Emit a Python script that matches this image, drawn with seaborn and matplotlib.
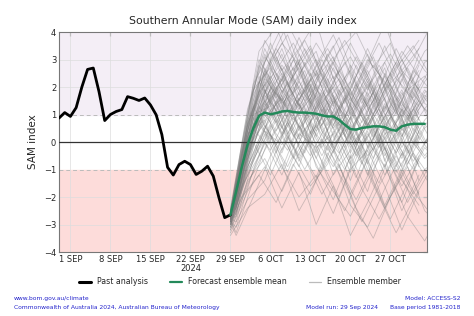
import numpy as np
import pandas as pd
import seaborn as sns
import matplotlib.pyplot as plt
import matplotlib.dates as mdates
from matplotlib.lines import Line2D
from matplotlib.ticker import FuncFormatter

# past analysis, daily from 30 Aug to 29 Sep 2024
past_dates = pd.date_range('2024-08-30', '2024-09-29', freq='D')
past_sam = [0.87, 1.07, 0.93, 1.25, 2.0, 2.64, 2.69, 1.83, 0.78, 1.0, 1.11,
            1.18, 1.65, 1.59, 1.51, 1.6, 1.35, 0.99, 0.27, -0.92, -1.2,
            -0.82, -0.7, -0.82, -1.18, -1.06, -0.88, -1.24, -2.03, -2.75, -2.65]

# forecast ensemble mean, daily from 29 Sep to 2 Nov
mean_dates = pd.date_range('2024-09-29', '2024-11-02', freq='D')
mean_sam = [-2.65, -1.8, -0.9, -0.1, 0.5, 0.95, 1.07, 1.01, 1.05, 1.11, 1.13,
            1.09, 1.07, 1.07, 1.05, 1.03, 0.97, 0.93, 0.93, 0.81, 0.63, 0.47,
            0.45, 0.51, 0.54, 0.57, 0.57, 0.54, 0.45, 0.41, 0.57, 0.63, 0.66,
            0.66, 0.66]

# ensemble members (read roughly), three groups on 3-day steps
dates_a = pd.to_datetime(['2024-09-29'] + list(pd.date_range('2024-10-02', '2024-11-03', freq='3D')))
dates_b = pd.to_datetime(['2024-09-29'] + list(pd.date_range('2024-09-30', '2024-11-05', freq='3D')))
dates_c = pd.to_datetime(['2024-09-29'] + list(pd.date_range('2024-10-01', '2024-11-03', freq='3D')))

members_a = [
    [-2.8, -0.5, 1.8, 3.2, 1.5, 2.6, 0.8, 1.9, 3.4, 2.0, 0.9, 2.2],
    [-2.6, 0.4, 2.6, 1.2, 2.9, 0.5, 1.6, -0.4, 0.8, 2.5, 1.1, -0.2],
    [-3.0, -1.2, 0.3, -1.0, 0.6, -0.8, -2.1, -0.5, -1.8, 0.2, -1.3, -2.6],
    [-2.7, 0.1, 3.1, 2.2, 3.8, 2.4, 3.5, 1.7, 2.9, 4.3, 2.6, 3.4],
    [-2.9, -0.8, 1.1, 2.3, 0.4, 1.8, -0.3, 0.9, -0.6, 1.4, 0.2, 1.7],
    [-2.5, 0.8, 2.1, 0.6, -0.5, 1.3, 2.4, 0.3, 1.6, -0.7, 0.8, 2.1],
    [-3.2, -1.8, -0.9, -2.4, -1.1, -3.0, -1.6, -3.4, -2.2, -0.8, -2.5, -1.2],
    [-2.8, 0.2, 1.5, 2.8, 1.9, 0.7, 1.8, 2.6, 1.0, -0.3, 1.2, 0.5],
    [-2.6, 0.5, 2.9, 4.2, 2.5, 3.3, 1.4, 2.2, 0.6, 1.8, 3.0, 1.6],
    [-3.1, -0.9, 0.6, -0.4, 1.2, 2.0, 0.2, -1.4, 0.3, -0.9, -2.2, -0.6],
    [-2.7, -0.3, 1.9, 0.8, 2.2, 1.1, 2.7, 1.3, -0.2, 0.9, 2.3, 0.8],
    [-2.9, -0.6, 0.9, 1.6, -0.2, -1.3, 0.4, -0.8, 1.1, 2.4, 0.6, -0.9],
    [-2.4, 1.1, 3.4, 2.0, 1.2, 2.8, 3.9, 2.5, 1.3, 2.9, 1.5, 3.2],
    [-3.3, -2.1, -1.4, 0.2, -0.9, 0.9, -0.6, -2.3, -3.1, -1.7, -0.4, -1.9],
    [-2.8, 0.0, 1.4, 0.3, 1.6, 0.4, 1.1, -0.2, 0.7, -0.5, 0.9, 2.4],
    [-2.6, 0.6, 2.4, 3.6, 2.8, 1.6, 0.5, 1.2, 2.3, 0.8, 1.9, 0.3],
    [-3.0, -1.0, 0.1, 1.3, 2.5, 1.4, -0.1, 0.6, -1.0, -2.4, -1.1, 0.4],
    [-2.7, -0.2, 2.2, 1.0, 0.1, 2.1, 1.3, 2.8, 1.7, 0.5, -0.9, 0.9],
    [-2.5, 0.9, 3.7, 2.6, 3.4, 4.4, 2.3, 3.1, 1.9, 3.5, 2.0, 1.3],
    [-3.1, -1.5, -0.3, 0.8, -0.7, 0.5, 1.7, 0.2, -1.2, 0.6, 1.5, -0.1],
    [-2.8, -0.4, 1.2, -0.3, 0.9, -0.4, 0.9, 1.8, 0.5, 1.6, -0.2, 1.1],
    [-2.9, -0.7, 1.6, 2.5, 1.3, 2.3, 3.1, 1.0, 2.6, 1.2, 2.8, 3.7],
    [-2.6, 0.3, 0.8, -0.9, -2.0, -1.2, -2.6, -1.0, -0.3, -1.6, -3.2, -1.8],
    [-3.0, -1.1, 0.5, 1.9, 0.9, -0.6, 1.0, -0.6, 0.2, 1.3, 0.3, -1.4],
    [-2.7, 0.0, 2.7, 1.4, 2.0, 3.0, 1.9, 0.8, 2.1, 0.4, 1.7, 2.6],
    [-3.4, -2.4, -1.9, -0.8, -2.5, -1.4, -0.3, -1.9, -0.6, -2.3, -1.0, 0.2],
    [-2.8, -0.1, 1.3, 2.1, 3.0, 1.2, 2.0, 0.5, 1.4, 2.7, 0.4, 1.4],
    [-2.6, 0.7, 1.9, 0.2, 1.4, 0.1, -0.9, 0.4, -0.8, 0.7, 1.8, 0.1],
    [-2.9, -0.5, 1.0, 2.4, 0.5, 1.7, 0.6, 2.0, 3.2, 1.5, 0.2, 2.0],
    [-2.5, 1.2, 3.2, 1.8, 2.7, 0.8, 2.2, 3.6, 2.4, 1.1, 2.5, 1.0],
    [-3.1, -1.4, -0.6, -1.8, -0.4, 0.7, -1.2, -0.3, 0.9, -0.4, -1.6, -0.5],
    [-2.7, 0.2, 2.0, 3.4, 1.7, 2.5, 0.9, -0.1, 1.2, 2.1, 3.3, 2.4],
    [-2.8, -0.3, 1.5, 0.5, 1.8, 0.2, 1.5, 0.7, -0.5, 0.3, 0.6, 1.5],
    [-3.2, -1.6, 0.0, -1.2, 0.3, -0.2, 0.3, -1.1, 0.4, -1.2, 0.0, -0.8],
    [-2.6, 0.4, 2.3, 1.5, 2.4, 3.6, 2.6, 1.5, 3.0, 2.2, 1.3, 2.8],
    [-2.9, -0.6, 1.7, 0.9, -0.6, 0.6, -0.4, 1.1, 0.0, -0.9, 0.5, -0.3],
    [-2.7, 0.1, 1.1, 2.7, 1.0, 1.9, 1.2, 0.1, 1.8, 0.6, -0.6, 0.7],
    [-3.0, -0.9, 0.4, -0.1, 1.1, -0.9, -1.8, -2.7, -1.4, -0.2, -1.4, -2.3],
    [-2.6, 0.6, 2.5, 1.1, 3.2, 1.9, 2.9, 1.6, 0.6, 1.9, 2.6, 1.9],
    [-2.8, -0.2, 0.7, 1.7, 0.2, 1.0, -0.2, 0.9, 2.2, 1.0, -0.5, 0.6],
]

members_b = [
    [-2.7, -2.2, 0.6, 2.4, 1.3, 2.9, 1.6, 0.4, 1.9, 3.1, 1.4, 0.5, 1.8, 2.2],
    [-2.6, -1.9, 1.5, 3.6, 2.1, 1.0, 2.7, 3.8, 2.2, 1.0, 2.4, 3.5, 2.6, 2.0],
    [-2.8, -3.3, -1.4, 0.3, -1.1, 0.5, -0.7, -2.0, -0.4, 0.9, -0.8, -2.2, -1.0, -0.5],
    [-2.7, -2.4, 0.2, 1.7, 0.6, -0.4, 1.2, 0.1, -1.3, 0.4, 1.6, 0.3, -0.6, 0.2],
    [-2.6, -2.0, 1.1, 2.9, 3.9, 2.3, 1.1, 2.6, 1.5, 0.2, 1.3, 2.7, 1.4, 1.0],
    [-2.8, -2.9, -0.6, 1.0, 2.2, 0.8, -0.5, 0.7, 2.1, 0.8, -0.7, 0.6, 1.7, 1.3],
    [-2.7, -2.3, 0.9, 0.1, 1.5, 2.6, 0.9, -0.7, 0.5, -1.4, -2.8, -1.5, -0.2, -0.9],
    [-2.6, -1.8, 2.1, 3.3, 2.0, 3.4, 2.2, 1.0, 2.8, 1.6, 0.3, 1.5, 2.9, 3.2],
    [-2.9, -3.4, -2.0, -0.5, 0.7, -0.6, -1.9, -0.8, -2.4, -3.5, -2.0, -0.9, -2.5, -3.1],
    [-2.7, -2.1, 0.4, 1.9, 0.3, 1.4, 2.5, 1.3, 0.0, 1.2, 2.5, 1.1, 0.0, 0.6],
    [-2.6, -2.0, 1.3, 0.2, -0.9, 0.4, 1.4, 2.3, 0.9, -0.3, 0.9, -0.4, 0.8, 1.5],
    [-2.8, -2.6, -0.2, 2.0, 1.2, 0.3, -1.0, 0.5, 1.7, 2.8, 1.8, 0.4, -0.5, 0.3],
    [-2.7, -2.2, 1.7, 3.0, 4.3, 3.1, 2.0, 3.3, 4.0, 2.7, 3.6, 2.1, 3.3, 3.8],
    [-2.6, -2.4, 0.0, -1.2, 0.2, -1.0, 0.1, -0.9, -2.1, -0.8, 0.4, 1.3, 0.1, -0.7],
    [-2.8, -2.5, 0.8, 2.2, 0.9, 1.9, 0.6, 1.9, 0.8, -0.6, 0.7, 1.9, 2.4, 1.4],
    [-2.7, -2.0, 1.0, 1.3, 2.8, 1.5, 3.0, 1.7, 3.1, 1.9, 0.6, -0.8, 0.5, 1.1],
    [-2.9, -3.1, -1.0, 0.6, -0.3, 1.1, -0.2, 1.0, -0.5, 0.5, -1.2, -2.7, -3.6, -2.4],
    [-2.6, -1.9, 1.9, 2.7, 1.4, 0.2, 1.8, 0.6, 1.4, 2.3, 3.2, 2.0, 1.2, 0.8],
    [-2.7, -2.3, 0.5, -0.3, 1.0, 2.2, 0.4, -0.4, 0.7, 1.8, 0.0, 1.0, 2.2, 2.9],
    [-2.8, -2.7, 0.3, 1.6, 2.6, 3.7, 2.4, 1.2, -0.1, 1.0, 2.1, 0.8, 1.9, 1.0],
]

members_c = [
    [-2.7, -0.9, 1.4, 2.5, 1.1, 2.3, 0.9, -0.2, 1.3, 2.4, 1.0, 2.6, 1.9],
    [-2.6, -0.4, 2.8, 1.6, 3.0, 1.8, 3.2, 2.1, 0.7, 1.9, 3.4, 2.2, 1.3],
    [-2.9, -1.6, -0.5, 0.8, -0.6, 0.4, -1.3, -2.5, -1.1, 0.3, -0.9, 0.5, -0.4],
    [-2.7, -0.7, 1.9, 0.7, 2.0, 0.3, 1.2, 0.4, 1.8, 0.2, -1.1, -0.1, 0.9],
    [-2.6, -0.2, 3.3, 4.2, 2.6, 3.5, 1.8, 2.9, 1.4, 2.8, 1.7, 0.8, 2.0],
    [-2.8, -1.3, 0.8, -0.4, 1.3, 2.1, 0.6, 1.6, -0.3, -1.5, 0.2, 1.2, 0.1],
    [-2.7, -1.0, 1.2, 2.0, 0.2, 1.0, 2.3, 0.3, -0.8, 0.6, 1.6, -0.5, -1.6],
    [-3.0, -2.0, -1.2, -2.2, -0.8, -1.9, -0.4, -1.5, -2.9, -1.6, -0.5, -1.8, -2.6],
    [-2.6, -0.5, 2.2, 1.1, 2.4, 3.4, 2.0, 0.9, 2.4, 3.6, 2.3, 1.6, 2.7],
    [-2.8, -1.1, 0.4, 1.5, 0.5, -0.5, 0.7, 2.0, 0.9, -0.2, 0.8, 2.0, 0.7],
    [-2.7, -0.8, 1.6, 3.1, 1.7, 0.6, -0.3, 0.8, -0.6, 0.5, -0.7, -1.9, -0.8],
    [-2.6, -0.3, 2.4, 0.9, -0.2, 1.2, 2.8, 1.4, 2.9, 1.5, 2.7, 3.5, 2.4],
    [-2.9, -1.4, 0.1, 1.2, 2.7, 1.3, 0.1, -1.0, 0.3, 1.2, 0.0, -1.0, 0.4],
    [-2.7, -0.6, 1.8, 2.6, 3.6, 2.4, 3.4, 2.3, 1.1, 0.0, 1.4, 0.6, 1.5],
    [-2.8, -1.2, 1.0, -0.1, 0.9, -0.2, 1.5, -0.2, -1.7, -2.8, -1.6, -0.4, -1.3],
    [-2.6, -0.1, 3.0, 1.9, 0.8, 1.6, 0.4, 1.7, 0.5, 1.7, 2.9, 1.8, 0.9],
    [-2.7, -0.9, 1.3, 0.4, 1.6, 0.9, 1.9, 0.2, 1.6, 0.7, -0.4, 0.9, 1.8],
    [-2.9, -1.7, -0.2, 1.1, -0.5, -1.6, -0.8, 0.6, -0.7, -2.0, -3.3, -2.1, -1.0],
    [-2.6, -0.4, 2.0, 3.4, 2.3, 1.4, 2.6, 3.7, 2.6, 1.3, 2.2, 3.0, 4.2],
    [-2.8, -1.0, 0.7, 1.8, 1.0, 2.5, 1.0, 0.0, 1.2, 2.1, 0.5, -0.7, 0.3],
]

tick_dates = pd.date_range('2024-09-01', '2024-10-27', freq='7D')

past_df = pd.DataFrame({'date': past_dates, 'sam': past_sam})
mean_df = pd.DataFrame({'date': mean_dates, 'sam': mean_sam})

rows = []
for grid, group in [(dates_a, members_a), (dates_b, members_b), (dates_c, members_c)]:
    for vals in group:
        rows.append(pd.DataFrame({'date': grid[:len(vals)], 'sam': vals, 'member': len(rows)}))
ens_df = pd.concat(rows, ignore_index=True)

sns.set_style('white')
plt.rcParams['font.family'] = ['DejaVu Sans']

fig = plt.figure(figsize=(4.74, 3.16), dpi=100)
ax = fig.add_axes([0.1245, 0.2025, 0.7765, 0.6962])

xmin = pd.Timestamp('2024-08-30')
xmax = pd.Timestamp('2024-11-02 10:00')

# shaded SAM bands
ax.axhspan(1, 4, color='#f4eef6', zorder=0)
ax.axhspan(-4, -1, color='#fddcda', zorder=0)
for yv in [-1, 1]:
    ax.axhline(yv, color='#bbbbbb', lw=0.7, ls=(0, (4, 3)), zorder=1)
for yv in [-3, -2, 2, 3]:
    ax.axhline(yv, color='#dddddd', lw=0.5, zorder=1)
for d in tick_dates:
    ax.axvline(d, color='#dddddd', lw=0.5, zorder=1)

sns.lineplot(data=ens_df, x='date', y='sam', units='member', estimator=None,
             color='#7a7a7a', alpha=0.38, lw=0.6, ax=ax, zorder=2)
ax.axhline(0, color='#333333', lw=0.9, zorder=3)
sns.lineplot(data=past_df, x='date', y='sam', color='black', lw=2.0, ax=ax, zorder=4)
sns.lineplot(data=mean_df, x='date', y='sam', color='#23895a', lw=1.8, ax=ax, zorder=5)

ax.set_xlim(xmin, xmax)
ax.set_ylim(-4, 4)
ax.set_yticks(range(-4, 5))
ax.set_xticks(tick_dates)
ax.xaxis.set_major_formatter(FuncFormatter(
    lambda v, p: f"{mdates.num2date(v).day} {mdates.num2date(v).strftime('%b').upper()}"))
ax.tick_params(axis='both', direction='in', length=3, labelsize=6, color='#777777',
               top=True, right=True, pad=2)
for s in ax.spines.values():
    s.set_color('#777777')
    s.set_linewidth(0.8)
ax.set_xlabel('')
ax.set_ylabel('SAM index', fontsize=7.5)
ax.set_title('Southern Annular Mode (SAM) daily index', fontsize=7.8, pad=6)

ax.text(pd.Timestamp('2024-09-22'), -4.6, '2024', ha='center', va='center', fontsize=6)

handles = [Line2D([], [], color='black', lw=2.2),
           Line2D([], [], color='#23895a', lw=1.6),
           Line2D([], [], color='#bbbbbb', lw=0.9)]
fig.legend(handles, ['Past analysis', 'Forecast ensemble mean', 'Ensemble member'],
           loc='center', bbox_to_anchor=(0.506, 0.108), ncol=3, frameon=False,
           fontsize=5.7, handlelength=1.5, handletextpad=0.76, columnspacing=2.8)

blue = '#2222cc'
fig.text(0.03, 0.05, 'www.bom.gov.au/climate', color=blue, fontsize=4.3)
fig.text(0.03, 0.022, 'Commonwealth of Australia 2024, Australian Bureau of Meteorology',
         color=blue, fontsize=4.3)
fig.text(0.972, 0.05, 'Model: ACCESS-S2', color=blue, fontsize=4.3, ha='right')
fig.text(0.972, 0.022, 'Base period 1981-2018', color=blue, fontsize=4.3, ha='right')
fig.text(0.797, 0.022, 'Model run: 29 Sep 2024', color=blue, fontsize=4.3, ha='right')

fig.savefig('out.png', dpi=100)
